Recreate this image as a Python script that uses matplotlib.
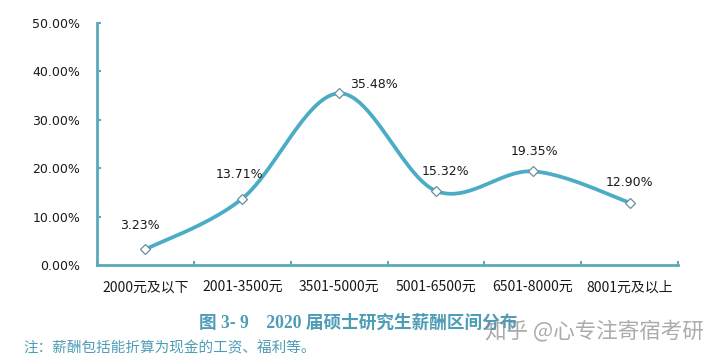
import numpy as np
import matplotlib
matplotlib.use("Agg")
import matplotlib.pyplot as plt
from matplotlib.ticker import FuncFormatter, FixedLocator

plt.rcParams['font.family'] = ['Noto Sans CJK SC', 'DejaVu Sans']

categories = ['2000元及以下', '2001-3500元', '3501-5000元', '5001-6500元', '6501-8000元', '8001元及以上']
values = [3.23, 13.71, 35.48, 15.32, 19.35, 12.90]
label_texts = ['3.23%', '13.71%', '35.48%', '15.32%', '19.35%', '12.90%']
y_ticks = [0, 10, 20, 30, 40, 50]

title_text = '图 3- 9    2020 届硕士研究生薪酬区间分布'
note_text = '注：薪酬包括能折算为现金的工资、福利等。'
watermark_text = '知乎 @心专注寄宿考研'

line_color = '#4BACC6'
axis_color = '#5AA9BC'
text_color = '#1a1a1a'
caption_color = '#4E9DB6'

W, H = 721, 360
fig = plt.figure(figsize=(W / 100, H / 100), dpi=100)
ax = fig.add_axes([97 / W, 1 - 265 / H, (678 - 97) / W, (265 - 23) / H])

x = np.arange(len(values), dtype=float)
y = np.array(values, dtype=float)

# Catmull-Rom smoothing (Excel-like smoothed line)
px = np.concatenate([[x[0]], x, [x[-1]]])
py = np.concatenate([[y[0]], y, [y[-1]]])
sx, sy = [], []
t = np.linspace(0, 1, 40)
for i in range(1, len(px) - 2):
    p0, p1, p2, p3 = (np.array([px[j], py[j]]) for j in (i - 1, i, i + 1, i + 2))
    c1 = p1 + (p2 - p0) / 6
    c2 = p2 - (p3 - p1) / 6
    seg = ((1 - t) ** 3)[:, None] * p1 + (3 * (1 - t) ** 2 * t)[:, None] * c1 \
        + (3 * (1 - t) * t ** 2)[:, None] * c2 + (t ** 3)[:, None] * p2
    sx.extend(seg[:, 0]); sy.extend(seg[:, 1])

ax.plot(sx, sy, color=line_color, lw=2.7, solid_capstyle='round', zorder=2)
ax.plot(x, y, linestyle='none', marker='D', markersize=5.5, markerfacecolor='white',
        markeredgecolor='#6a8fa0', markeredgewidth=0.9, zorder=3)

offsets = [(-6, 24), (-3, 24), (35, 9), (10, 19), (2, 20), (0, 20)]
for xi, yi, lab, (dx, dy) in zip(x, y, label_texts, offsets):
    ax.annotate(lab, (xi, yi), xytext=(dx * 0.72, dy * 0.72), textcoords='offset points',
                ha='center', va='center', fontsize=9, color=text_color,
                family=['DejaVu Sans'])

ax.set_xlim(-0.5, len(values) - 0.5)
ax.set_ylim(0, 50)
ax.yaxis.set_major_locator(FixedLocator(y_ticks))
ax.yaxis.set_major_formatter(FuncFormatter(lambda v, p: f'{v:.2f}%'))
ax.xaxis.set_major_locator(FixedLocator(np.arange(len(values) + 1) - 0.5))
ax.xaxis.set_major_formatter(FuncFormatter(lambda v, p: ''))
ax.xaxis.set_minor_locator(FixedLocator(x))
ax.set_xticklabels(categories, minor=True)
ax.tick_params(axis='x', which='minor', length=0, pad=11, labelsize=10, labelcolor=text_color)
ax.tick_params(axis='x', which='major', direction='in', length=3, width=1.5, color=axis_color)
ax.tick_params(axis='y', direction='in', length=3, width=1.5, color=axis_color,
               labelsize=9, labelcolor=text_color, pad=12)
for lab in ax.get_yticklabels():
    lab.set_family(['DejaVu Sans'])

for s in ['top', 'right']:
    ax.spines[s].set_visible(False)
for s in ['left', 'bottom']:
    ax.spines[s].set_color(axis_color)
    ax.spines[s].set_linewidth(2.0)
ax.patch.set_alpha(0)

fig.text(358 / W, 1 - 323 / H, title_text, ha='center', va='center', fontsize=12.7,
         fontweight='bold', color=caption_color, family=['Liberation Serif', 'Noto Sans CJK SC'])
fig.text(23 / W, 1 - 348 / H, note_text, ha='left', va='center', fontsize=10.5,
         color=caption_color)
fig.text(594 / W, 1 - 332 / H, watermark_text, ha='center', va='center', fontsize=15.5,
         color='#888888', alpha=0.7)

fig.savefig('out.png', dpi=100)
